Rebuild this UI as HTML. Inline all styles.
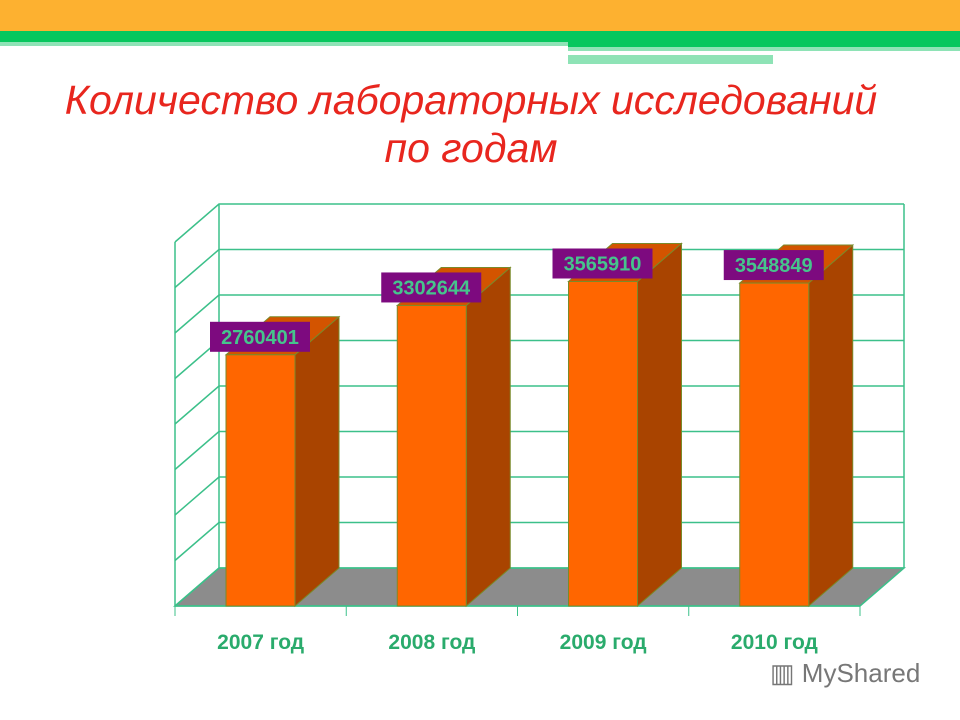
<!DOCTYPE html>
<html><head><meta charset="utf-8"><style>
html,body{margin:0;padding:0;background:#fff;}
#wrap{position:relative;width:960px;height:720px;overflow:hidden;font-family:"Liberation Sans",sans-serif;}
.title{position:absolute;left:0;width:942px;text-align:center;color:#e8261e;font-style:italic;font-size:41px;line-height:48px;}
</style></head><body>
<div id="wrap">
<div style="position:absolute;left:0;top:0;width:960px;height:31px;background:#fdb130"></div>
<div style="position:absolute;left:0;top:31px;width:960px;height:11px;background:#06c75e"></div>
<div style="position:absolute;left:0;top:42px;width:568px;height:4px;background:#8ee3b6"></div>
<div style="position:absolute;left:568px;top:42px;width:392px;height:5px;background:#06c75e"></div>
<div style="position:absolute;left:568px;top:47px;width:392px;height:4px;background:#8ee3b6"></div>
<div style="position:absolute;left:568px;top:55px;width:205px;height:9px;background:#8ee3b6"></div>
<div class="title" style="top:76px">Количество лабораторных исследований</div>
<div class="title" style="top:124px">по годам</div>
<svg id="chart" width="960" height="720" style="position:absolute;left:0;top:0"></svg>
<div style="position:absolute;left:770px;top:658px;color:#777;font-size:26px;">▥ MyShared</div>
</div>
<script>
const categories = ["2007 год","2008 год","2009 год","2010 год"];
const values = [2760401,3302644,3565910,3548849];
const labels = ["2760401","3302644","3565910","3548849"];
const yMax = 4000000, yStep = 500000;

const svg = document.getElementById('chart');
const NS = 'http://www.w3.org/2000/svg';
const X0 = 175, X1 = 860, FY = 606, H = 364, DX = 44, DY = -38;
const catW = (X1 - X0) / categories.length;
function yScale(v){ return FY - v / yMax * H; }
function xCat(i){ return X0 + i * catW; }
function mk(tag, attrs, name){
  const e = document.createElementNS(NS, tag);
  for (const k in attrs) e.setAttribute(k, attrs[k]);
  
  
  svg.appendChild(e); return e;
}
const G = '#3cc08a';
mk('polygon',{points:`${X0},${FY} ${X1},${FY} ${X1+DX},${FY+DY} ${X0+DX},${FY+DY}`,fill:'#8c8c8c',stroke:G,'stroke-width':1.5},'floor');
for (let v = 0; v <= yMax; v += yStep){
  const y = yScale(v);
  mk('polyline',{points:`${X0},${y} ${X0+DX},${y+DY} ${X1+DX},${y+DY}`,fill:'none',stroke:G,'stroke-width':1.5},'gridline');
}
mk('line',{x1:X0,y1:FY,x2:X0,y2:yScale(yMax),stroke:G,'stroke-width':1.5},'left-wall-front-edge');
mk('line',{x1:X0+DX,y1:FY+DY,x2:X0+DX,y2:yScale(yMax)+DY,stroke:G,'stroke-width':1.5},'back-wall-left-edge');
mk('line',{x1:X1+DX,y1:FY+DY,x2:X1+DX,y2:yScale(yMax)+DY,stroke:G,'stroke-width':1.5},'back-wall-right-edge');
mk('line',{x1:X0,y1:FY,x2:X1,y2:FY,stroke:G,'stroke-width':1.5},'x-axis');
for (let i = 0; i <= categories.length; i++){
  mk('line',{x1:xCat(i),y1:FY,x2:xCat(i),y2:FY+10,stroke:G,'stroke-width':1},'x-tick');
}
const BW = 69, BOFF = 51;
values.forEach((v,i)=>{
  const x = xCat(i) + BOFF, y = yScale(v);
  mk('polygon',{points:`${x+BW},${FY} ${x+BW+DX},${FY+DY} ${x+BW+DX},${y+DY} ${x+BW},${y}`,fill:'#a94400',stroke:'#7a8a2a','stroke-width':1},'bar-side');
  mk('polygon',{points:`${x},${y} ${x+BW},${y} ${x+BW+DX},${y+DY} ${x+DX},${y+DY}`,fill:'#d35400',stroke:'#7a8a2a','stroke-width':1},'bar-top');
  mk('rect',{x:x,y:y,width:BW,height:FY-y,fill:'#ff6600',stroke:'#7a8a2a','stroke-width':1},'bar');
  mk('rect',{x:x-16,y:y-33,width:100,height:30,fill:'#7d0a7f'},'value-label-box');
  const t = mk('text',{x:x+34,y:y-11,'text-anchor':'middle','font-size':20,'font-weight':'bold','font-family':'Liberation Sans, sans-serif',fill:'#46c48c'},'value-label');
  t.textContent = labels[i];
  const c = mk('text',{x:xCat(i)+catW/2,y:649,'text-anchor':'middle','font-size':21,'font-weight':'bold','font-family':'Liberation Sans, sans-serif',fill:'#2aab6c'},'category-label');
  c.textContent = categories[i];
});
</script>
</body></html>
